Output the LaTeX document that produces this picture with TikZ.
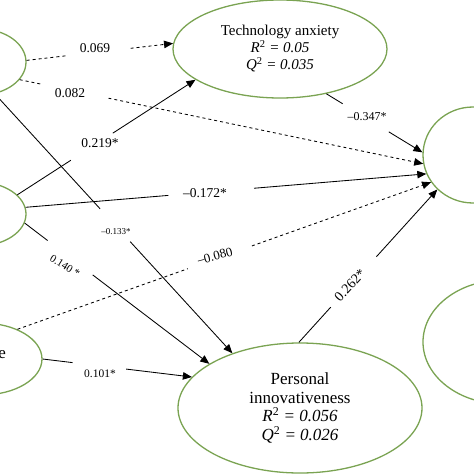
\documentclass[tikz,border=0pt]{standalone}
\usepackage{fontspec}
\setmainfont{Liberation Serif}
\usetikzlibrary{shapes.geometric, arrows.meta, calc}
\definecolor{drawgreen}{HTML}{7AA352}

\begin{document}
\begin{tikzpicture}[x=1pt, y=-1pt,
  % construct ellipses
  construct/.style 2 args={ellipse, draw=drawgreen, line width=1.3pt, inner sep=0pt,
                minimum width=#1, minimum height=#2, align=center},
  % path coefficients
  coef/.style={font=\fontsize{#1}{#1}\selectfont, inner sep=1pt},
  % arrows
  arr/.style={-{Triangle[length=9pt, width=7.5pt]}, line width=0.85pt, black},
]
\useasboundingbox (0,0) rectangle (474,474);
\clip (0,0) rectangle (474,474);

% ── CONSTRUCTS ─────────────────────────────
\node[construct={92pt}{66pt}] (A) at (-20,62) {};
\node[construct={96pt}{64pt}] (B) at (-22,214) {};
\node[construct={120pt}{72pt}] (C) at (-18,359) {};
\node[font=\fontsize{17}{18.7}\selectfont, anchor=east, inner sep=0pt] (Ctxt) at (6,355) {e};

\node[construct={214pt}{98pt}, font=\fontsize{15}{17}\selectfont] (T) at (280,49) {%
  Technology anxiety\\
  \textit{R}\textsuperscript{2} \textit{= 0.05}\\
  \textit{Q}\textsuperscript{2} \textit{= 0.035}};

\node[construct={244pt}{130pt}, font=\fontsize{17}{18.7}\selectfont] (P) at (300,408) {%
  Personal\\
  innovativeness\\
  \textit{R}\textsuperscript{2} \textit{= 0.056}\\
  \textit{Q}\textsuperscript{2} \textit{= 0.026}};

\node[construct={100pt}{96pt}] (R1) at (473,155) {};
\node[construct={160pt}{124pt}] (R2) at (503,342) {};

% ── PATHS (broken where the coefficient sits) ──────────
\foreach \s/\e/\a/\b/\st in {A.2/T.177/.27/.71/dashed,
    A.-24/R1.190/.057/.22/dashed,
    A.-65/P.141/.443/.57/solid,
    B.26/T.200/.30/.536/solid,
    B.8/R1.202/.356/.57/solid,
    B.-11/P.154/.124/.368/solid,
    C.40/R1.213/.412/.567/dashed,
    C.0/P.164/.2/.56/solid,
    P.91/R1.224/.23/.56/solid,
    T.-44/R1.177/.17/.65/solid} {
  \draw[arr, \st] (\s) -- ($(\s)!\a!(\e)$) ($(\s)!\b!(\e)$) -- (\e);
}

% ── COEFFICIENTS ───────────────────────────
\node[coef=13.5] (l069) at (95,48) {0.069};
\node[coef=13.5] (l082) at (70,93) {0.082};
\node[coef=13.5] (l219) at (100,143) {0.219*};
\node[coef=13.5] (l172) at (205,193) {--0.172*};
\node[coef=9] (l133) at (116,232) {--0.133*};
\node[coef=11, rotate=-32] (l140) at (65,266) {0.140 *};
\node[coef=13, rotate=15] (l080) at (215,256) {--0.080};
\node[coef=11.5] (l101) at (100,374) {0.101*};
\node[coef=14, rotate=47] (l262) at (350,285) {0.262*};
\node[coef=12] (l347) at (367,117) {--0.347*};

\end{tikzpicture}
\end{document}
